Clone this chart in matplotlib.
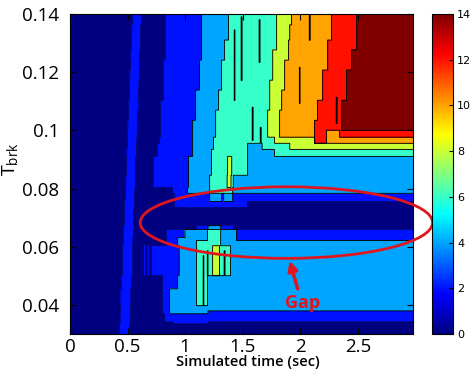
import numpy as np
import matplotlib
matplotlib.use('Agg')
import matplotlib.pyplot as plt
from matplotlib.colors import LinearSegmentedColormap, Normalize
from matplotlib.patches import Ellipse
import matplotlib.cm as cm

plt.rcParams['font.family'] = ['Open Sans', 'DejaVu Sans']
plt.rcParams['mathtext.default'] = 'regular'

# ---------------- data ----------------
# Each row: Tbrk range [row_bottom, row_top]; value starts at 0 at time 0 and
# changes to row_values[k+1] at time row_breaks[k].
row_top = [0.1400, 0.1362, 0.1310, 0.1276, 0.1241, 0.1207, 0.1172, 0.1138,
           0.1103, 0.1069, 0.1034, 0.1000, 0.0976, 0.0955, 0.0934, 0.0910,
           0.0845, 0.0803, 0.0783, 0.0755, 0.0734, 0.0672, 0.0659, 0.0631,
           0.0621, 0.0603, 0.0500, 0.0455, 0.0397, 0.0379, 0.0369, 0.0341,
           0.0334]
row_bottom = row_top[1:] + [0.0300]

row_breaks = [
    [0.5415, 0.620, 0.830, 1.143, 1.378, 1.796, 1.926, 2.274, 2.491],
    [0.537, 0.616, 0.830, 1.143, 1.378, 1.796, 1.910, 2.274, 2.491],
    [0.5325, 0.612, 0.830, 1.143, 1.343, 1.796, 1.900, 2.239, 2.491],
    [0.529, 0.608, 0.830, 1.143, 1.343, 1.761, 1.900, 2.239, 2.448],
    [0.5255, 0.605, 0.813, 1.126, 1.317, 1.761, 1.865, 2.239, 2.448],
    [0.522, 0.602, 0.813, 1.126, 1.317, 1.761, 1.865, 2.196, 2.404],
    [0.518, 0.599, 0.813, 1.126, 1.317, 1.735, 1.865, 2.196, 2.404],
    [0.515, 0.595, 0.813, 1.091, 1.291, 1.735, 1.839, 2.196, 2.404],
    [0.511, 0.592, 0.787, 1.091, 1.291, 1.735, 1.839, 2.152, 2.361],
    [0.508, 0.589, 0.787, 1.091, 1.265, 1.717, 1.822, 2.152, 2.361],
    [0.504, 0.585, 0.787, 1.065, 1.265, 1.717, 1.822, 2.126, 2.361],
    [0.501, 0.583, 0.787, 1.065, 1.265, 1.717, 1.822, 2.126, 2.230, 2.343],
    [0.499, 0.581, 0.780, 1.065, 1.248, 1.778, 2.126, 2.230],
    [0.497, 0.579, 0.761, 1.065, 1.248, 1.543, 1.670, 1.909],
    [0.4945, 0.577, 0.761, 1.065, 1.230, 1.543, 1.778],
    [0.490, 0.572, 0.726, 1.030, 1.230, 1.370, 1.405, 1.543],
    [0.4845, 0.567, 0.726, 1.030, 1.213, 1.365, 1.400, 1.420],
    [0.481, 0.564, 0.891, 1.022, 1.213, 1.413],
    [0.479, 0.562, 0.909, 1.213, 1.317, 1.335, 1.413],
    [0.476, 0.560, 0.909, 1.543],
    [0.472, 0.556],
    [0.468, 0.552, 1.100, 1.200, 1.310, 1.420],
    [0.466, 0.550, 0.839, 1.000, 1.196, 1.309, 1.448],
    [0.463, 0.548, 0.839, 0.935, 1.196, 1.309, 1.448],
    [0.463, 0.548, 0.839, 0.935, 1.100, 1.309],
    [0.4565, 0.5415, 0.640, 0.655, 0.675, 0.690, 0.710, 0.950, 1.100, 1.240, 1.300, 1.396],
    [0.449, 0.5345, 0.804, 0.935, 1.100, 1.196],
    [0.4435, 0.5295, 0.804, 0.865, 1.100, 1.196],
    [0.4395, 0.526, 0.804, 0.865],
    [0.438, 0.5245, 0.804, 0.865, 1.200],
    [0.436, 0.523, 0.820],
    [0.435, 0.521, 0.900, 1.200],
    [0.432, 0.519],
]
row_values = [
    [0, 2, 0, 2, 4, 6, 8, 10, 12, 14],
    [0, 2, 0, 2, 4, 6, 8, 10, 12, 14],
    [0, 2, 0, 2, 4, 6, 8, 10, 12, 14],
    [0, 2, 0, 2, 4, 6, 8, 10, 12, 14],
    [0, 2, 0, 2, 4, 6, 8, 10, 12, 14],
    [0, 2, 0, 2, 4, 6, 8, 10, 12, 14],
    [0, 2, 0, 2, 4, 6, 8, 10, 12, 14],
    [0, 2, 0, 2, 4, 6, 8, 10, 12, 14],
    [0, 2, 0, 2, 4, 6, 8, 10, 12, 14],
    [0, 2, 0, 2, 4, 6, 8, 10, 12, 14],
    [0, 2, 0, 2, 4, 6, 8, 10, 12, 14],
    [0, 2, 0, 2, 4, 6, 8, 10, 12, 10, 12],
    [0, 2, 0, 2, 4, 6, 8, 12, 10],
    [0, 2, 0, 2, 4, 6, 4, 6, 8],
    [0, 2, 0, 2, 4, 6, 4, 6],
    [0, 2, 0, 2, 4, 6, 8, 6, 4],
    [0, 2, 0, 2, 4, 6, 8, 6, 4],
    [0, 2, 0, 2, 4, 6, 4],
    [0, 2, 0, 2, 4, 2, 4, 2],
    [0, 2, 0, 2, 0],
    [0, 2, 0],
    [0, 2, 0, 2, 4, 2, 0],
    [0, 2, 0, 2, 4, 6, 4, 2],
    [0, 2, 0, 2, 4, 6, 4, 2],
    [0, 2, 0, 2, 4, 6, 4],
    [0, 2, 0, 2, 0, 2, 0, 2, 4, 6, 8, 6, 4],
    [0, 2, 0, 2, 4, 6, 4],
    [0, 2, 0, 2, 4, 6, 4],
    [0, 2, 0, 2, 4],
    [0, 2, 0, 2, 4, 2],
    [0, 2, 0, 2],
    [0, 2, 0, 2, 0],
    [0, 2, 0],
]

# thin streaks inside regions (time, Tbrk from, Tbrk to, value)
streak_time = [1.430, 1.491, 1.648, 1.587, 2.083, 1.996, 2.317, 1.657, 1.160, 1.343, 1.196, 0.796]
streak_lo = [0.1103, 0.1172, 0.1234, 0.0966, 0.1310, 0.1093, 0.1024, 0.0955, 0.0400, 0.0500, 0.0503, 0.0766]
streak_hi = [0.1345, 0.1390, 0.1380, 0.1080, 0.1400, 0.1217, 0.1114, 0.1010, 0.0570, 0.0586, 0.0586, 0.0803]
streak_val = [4, 4, 4, 4, 8, 8, 10, 4, 4, 4, 4, 2]

time_ticks = [0, 0.5, 1, 1.5, 2, 2.5]
time_labels = ['0', '0.5', '1', '1.5', '2', '2.5']
tbrk_ticks = [0.04, 0.06, 0.08, 0.10, 0.12, 0.14]
tbrk_labels = ['0.04', '0.06', '0.08', '0.1', '0.12', '0.14']
cbar_ticks = [0, 2, 4, 6, 8, 10, 12, 14]

# ---------------- build field on a fine sampling grid ----------------
xf = np.linspace(0, 2.98, 1491)
yf = np.linspace(0.03, 0.14, 1101)
Z = np.zeros((len(yf), len(xf)))
for top, bot, br, vals in zip(row_top, row_bottom, row_breaks, row_values):
    rmask = (yf >= bot - 1e-9) & (yf <= top + 1e-9)
    idx = np.searchsorted(np.array(br), xf, side='right')
    Z[rmask, :] = np.array(vals)[idx][None, :]
for xs, lo, hi, v in zip(streak_time, streak_lo, streak_hi, streak_val):
    cm_ = (np.abs(xf - xs) <= 0.004)
    rm_ = (yf >= lo) & (yf <= hi)
    Z[np.ix_(rm_, cm_)] = v

# MATLAB-style jet
jet_m = LinearSegmentedColormap('jetm', {
    'red':   [(0, 0, 0), (0.375, 0, 0), (0.625, 1, 1), (0.875, 1, 1), (1, 0.5, 0.5)],
    'green': [(0, 0, 0), (0.125, 0, 0), (0.375, 1, 1), (0.625, 1, 1), (0.875, 0, 0), (1, 0, 0)],
    'blue':  [(0, 0.5, 0.5), (0.125, 1, 1), (0.375, 1, 1), (0.625, 0, 0), (1, 0, 0)],
}, N=256)
norm = Normalize(0, 14)

fig = plt.figure(figsize=(4.74, 3.73), dpi=100)
W, H = 474.0, 373.0
ax = fig.add_axes([70 / W, 1 - 334 / H, (413 - 70) / W, 320 / H])
ax.contourf(xf, yf, Z, levels=np.arange(-1, 16, 2), cmap=jet_m, norm=norm)
ax.contour(xf, yf, Z, levels=[1], colors='k', linewidths=0.35)
ax.contour(xf, yf, Z, levels=np.arange(3, 15, 2), colors='k', linewidths=0.65)
ax.set_xlim(0, 2.98)
ax.set_ylim(0.03, 0.14)
ax.set_xticks(time_ticks)
ax.set_xticklabels(time_labels)
ax.set_yticks(tbrk_ticks)
ax.set_yticklabels(tbrk_labels)
ax.tick_params(direction='in', top=True, right=True, length=4, width=0.8,
               labelsize=13.5, color='k')
ax.tick_params(axis='y', pad=8)
ax.tick_params(axis='x', pad=3)
for s in ax.spines.values():
    s.set_linewidth(0.8)

red = '#E0161E'
ell = Ellipse((1.88, 0.0683), 2.54, 0.0246, fill=False, ec=red, lw=2.0,
              clip_on=False, zorder=6)
ax.add_patch(ell)
ax.annotate('', xy=(1.909, 0.0552), xytext=(1.978, 0.0455),
            arrowprops=dict(arrowstyle='-|>', color=red, lw=2.5,
                            mutation_scale=14, shrinkA=0, shrinkB=0),
            zorder=7)
ax.text(2.022, 0.0407, 'Gap', color=red, fontsize=13, fontweight='bold',
        ha='center', va='center', zorder=7)

fig.text(248 / W, 1 - 362 / H, 'Simulated time (sec)', fontsize=10.5,
         fontweight='semibold', ha='center', va='center')
fig.text(10 / W, 1 - 159 / H, r'$\mathregular{T_{brk}}$', fontsize=14,
         rotation=90, ha='center', va='center')

cax = fig.add_axes([432 / W, 1 - 334 / H, 21 / W, 320 / H])
sm = cm.ScalarMappable(norm=norm, cmap=jet_m)
cb = fig.colorbar(sm, cax=cax, ticks=cbar_ticks)
cb.ax.tick_params(direction='in', length=3, width=0.8, labelsize=8, pad=3)
for lab in cb.ax.get_yticklabels():
    lab.set_family('DejaVu Sans')
cb.outline.set_linewidth(0.8)

fig.savefig('out.png', dpi=100)
